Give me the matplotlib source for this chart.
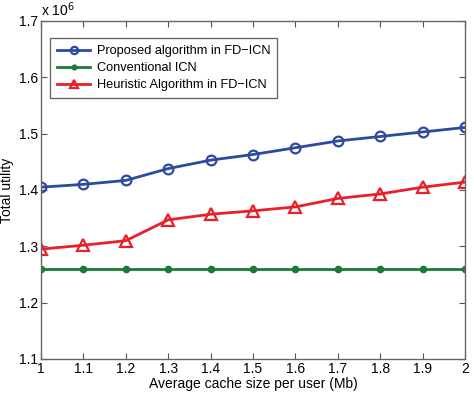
import matplotlib
matplotlib.use("Agg")
import matplotlib.pyplot as plt
import numpy as np

plt.rcParams['font.family'] = ['Liberation Sans', 'DejaVu Sans']

x = [1.0, 1.1, 1.2, 1.3, 1.4, 1.5, 1.6, 1.7, 1.8, 1.9, 2.0]
proposed = [1.405, 1.410, 1.417, 1.438, 1.453, 1.463, 1.475, 1.487, 1.495, 1.503, 1.511]
conventional = [1.259] * 11
heuristic = [1.295, 1.302, 1.310, 1.347, 1.357, 1.363, 1.370, 1.385, 1.393, 1.405, 1.414]
labels = ["Proposed algorithm in FD\u2212ICN", "Conventional ICN", "Heuristic Algorithm in FD\u2212ICN"]

fig = plt.figure(figsize=(4.74, 3.94), dpi=100)
ax = fig.add_axes([41/474, 1-359/394, (465-41)/474, (359-21)/394])

ax.plot(x, proposed, color='#2b4aa0', lw=2, marker='o', ms=7, mfc='none', mec='#2b4aa0', mew=1.6, label=labels[0])
ax.plot(x, conventional, color='#1a7a3a', lw=2, marker='o', ms=4.5, mfc='#1a7a3a', mec='#1a7a3a', label=labels[1])
ax.plot(x, heuristic, color='#e8202a', lw=2, marker='^', ms=8, mfc='none', mec='#e8202a', mew=1.6, label=labels[2])

ax.set_xlim(1, 2)
ax.set_ylim(1.1, 1.7)
ax.set_xticks(x)
ax.set_xticklabels(['1', '1.1', '1.2', '1.3', '1.4', '1.5', '1.6', '1.7', '1.8', '1.9', '2'])
ax.set_yticks([1.1, 1.2, 1.3, 1.4, 1.5, 1.6, 1.7])
ax.set_yticklabels(['1.1', '1.2', '1.3', '1.4', '1.5', '1.6', '1.7'])
ax.tick_params(direction='in', top=True, right=True, labelsize=10, color='#555555', length=4, pad=2)
for s in ax.spines.values():
    s.set_color('#666666')
    s.set_linewidth(1)
ax.set_xlabel('Average cache size per user (Mb)', fontsize=10, labelpad=1)
ax.set_ylabel('Total utility', fontsize=10)
ax.yaxis.set_label_coords(-0.063, 0.5)
ax.text(0, 1.005, r'x 10$^6$', transform=ax.transAxes, fontsize=10, ha='left', va='bottom')

leg = ax.legend(loc='upper left', bbox_to_anchor=(9/424, 321/338), borderaxespad=0, fontsize=9.2,
                frameon=True, fancybox=False, markerscale=0.75,
                handlelength=2.6, borderpad=0.55, labelspacing=0.4, handletextpad=0.5)
leg.get_frame().set_edgecolor('#444444')
leg.get_frame().set_linewidth(1)

fig.savefig('out.png', dpi=100)
